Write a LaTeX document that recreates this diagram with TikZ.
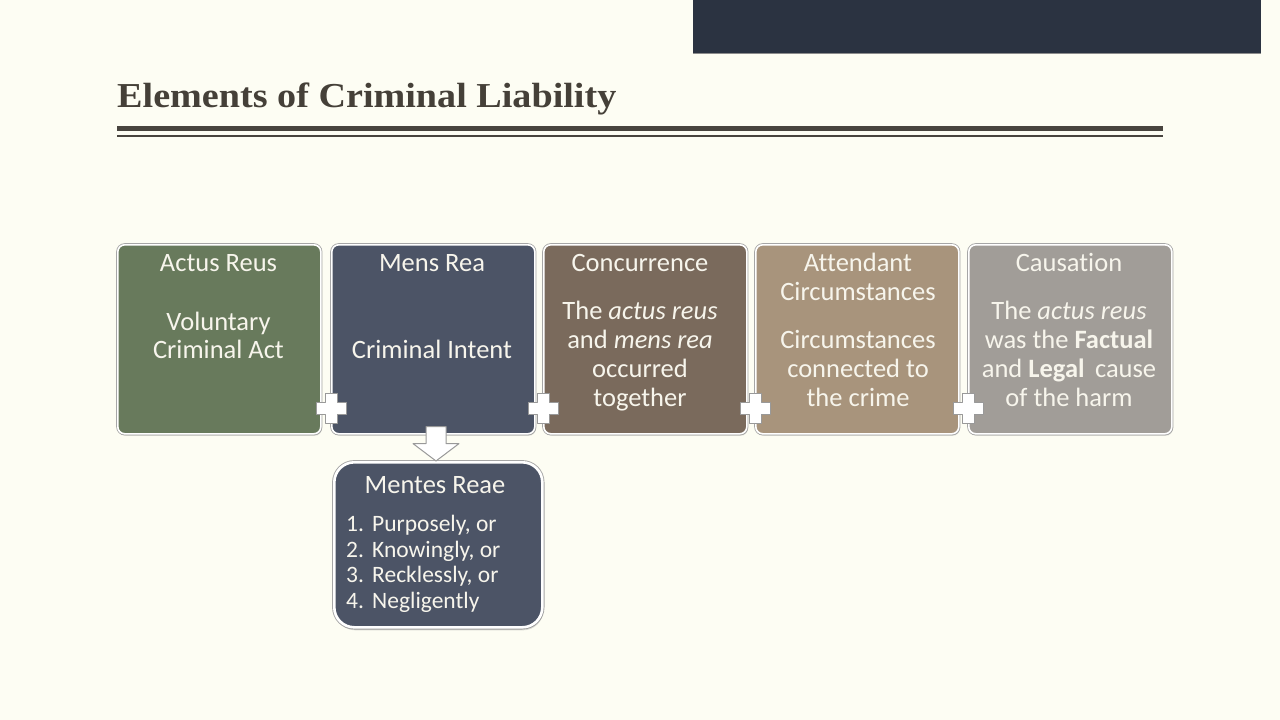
\documentclass[tikz,border=0pt]{standalone}
\usepackage{fontspec}
\setmainfont{Carlito}[Ligatures=NoCommon]
\newfontfamily\titlefont{Liberation Serif}
\usetikzlibrary{shadows}
\definecolor{bgc}{HTML}{FDFDF3}
\definecolor{titlec}{HTML}{454038}
\definecolor{linec}{HTML}{48443E}
\definecolor{topc}{HTML}{2B3341}
\definecolor{cA}{HTML}{687A5C}
\definecolor{cB}{HTML}{4C5466}
\definecolor{cC}{HTML}{7A6A5C}
\definecolor{cD}{HTML}{A8947C}
\definecolor{cE}{HTML}{A19D98}
\definecolor{txtc}{HTML}{F7F5EC}
\begin{document}
\begin{tikzpicture}[x=1pt,y=-1pt,
  elembox/.style={anchor=north west, minimum width=203pt, minimum height=189pt,
    rounded corners=7pt, draw=white, line width=1.6pt,
    preaction={draw=black!35, line width=3.2pt},
    drop shadow={opacity=0.2, shadow xshift=1pt, shadow yshift=-2pt}},
  hd/.style={anchor=base, text=txtc, font=\fontsize{26.5}{30}\selectfont, inner sep=0pt},
  bd/.style={anchor=base, text=txtc, font=\fontsize{26.5}{30}\selectfont, inner sep=0pt},
  li/.style={anchor=base west, text=txtc, font=\fontsize{23.5}{26}\selectfont, inner sep=0pt},
  plusst/.style={fill=white, draw=black!40, line width=1pt, line join=round},
  plussign/.pic={\draw[plusst] (-6,-15) -- (6,-15) -- (6,-6) -- (15,-6) -- (15,6) -- (6,6) -- (6,15) -- (-6,15) -- (-6,6) -- (-15,6) -- (-15,-6) -- (-6,-6) -- cycle;}
]
\useasboundingbox (0,0) rectangle (1280,720);
\fill[bgc] (0,0) rectangle (1280,720);
% top dark band
\fill[topc] (693,0) rectangle (1261,53);
\draw[black!45, line width=0.8pt] (693,53) -- (1261,53);
% title
\node[anchor=base west, inner sep=0pt, text=titlec, font=\titlefont\bfseries\fontsize{35}{40}\selectfont] (title) at (117,107) {\scalebox{1.09}[1]{Elements of Criminal Liability}};
\fill[linec] (117,126) rectangle (1163,131);
\fill[linec] (117,135.3) rectangle (1163,136.7);
% boxes
\node[elembox, fill=cA] (b1) at (117,244) {};
\node[elembox, fill=cB] (b2) at (331,244) {};
\node[elembox, fill=cC] (b3) at (543,244) {};
\node[elembox, fill=cD] (b4) at (755,244) {};
\node[elembox, fill=cE] (b5) at (968,244) {};
% mentes reae box
\node[anchor=north west, minimum width=208pt, minimum height=165pt, rounded corners=20pt,
  fill=cB, draw=white, line width=2.6pt, preaction={draw=black!35, line width=4.4pt},
  drop shadow={opacity=0.25, shadow xshift=1pt, shadow yshift=-3pt}] (m) at (333,461) {};
% texts box 1
\node[hd] (h1) at (218.5,271) {Actus Reus};
\node[bd] (a1) at (218.5,330) {Voluntary};
\node[bd] (a2) at (218.5,358) {Criminal Act};
% box 2
\node[hd] (h2) at (432,271) {Mens Rea};
\node[bd] (c1) at (432,358) {Criminal Intent};
% box 3
\node[hd] (h3) at (640,271) {Concurrence};
\node[bd] (d1) at (640,319) {The \textit{actus reus}};
\node[bd] (d2) at (640,348) {and \textit{mens rea}};
\node[bd] (d3) at (640,377) {occurred};
\node[bd] (d4) at (640,406) {together};
% box 4
\node[hd] (h4) at (858,271) {Attendant};
\node[hd] (h4b) at (858,300) {Circumstances};
\node[bd] (e1) at (858,348) {Circumstances};
\node[bd] (e2) at (858,377) {connected to};
\node[bd] (e3) at (858,406) {the crime};
% box 5
\node[hd] (h5) at (1069,271) {Causation};
\node[bd] (f1) at (1069,319) {The \textit{actus reus}};
\node[bd] (f2) at (1069,348) {was the \textbf{Factual}};
\node[bd] (f3) at (1069,377) {and \textbf{Legal}\, cause};
\node[bd] (f4) at (1069,406) {of the harm};
% mentes texts
\node[hd] (mh) at (435,493) {Mentes Reae};
\node[li] (l1) at (346,531) {\makebox[26pt][l]{1.}Purposely, or};
\node[li] (l2) at (346,557) {\makebox[26pt][l]{2.}Knowingly, or};
\node[li] (l3) at (346,582) {\makebox[26pt][l]{3.}Recklessly, or};
\node[li] (l4) at (346,608) {\makebox[26pt][l]{4.}Negligently};
% plus signs
\coordinate (ply) at (0,408);
\pic at (b2.west |- ply) {plussign};
\pic at (b3.west |- ply) {plussign};
\pic at (b4.west |- ply) {plussign};
\pic at (b5.west |- ply) {plussign};
% down arrow from b2 to m
\coordinate (ax) at (436,0);
\draw[plusst] ([xshift=-10pt,yshift=8pt]ax |- b2.south) -- ([xshift=10pt,yshift=8pt]ax |- b2.south)
  -- ([xshift=10pt,yshift=-9pt]ax |- b2.south) -- ([xshift=23pt,yshift=-9pt]ax |- b2.south)
  -- (ax |- m.north) -- ([xshift=-23pt,yshift=-9pt]ax |- b2.south)
  -- ([xshift=-10pt,yshift=-9pt]ax |- b2.south) -- cycle;
\end{tikzpicture}
\end{document}
